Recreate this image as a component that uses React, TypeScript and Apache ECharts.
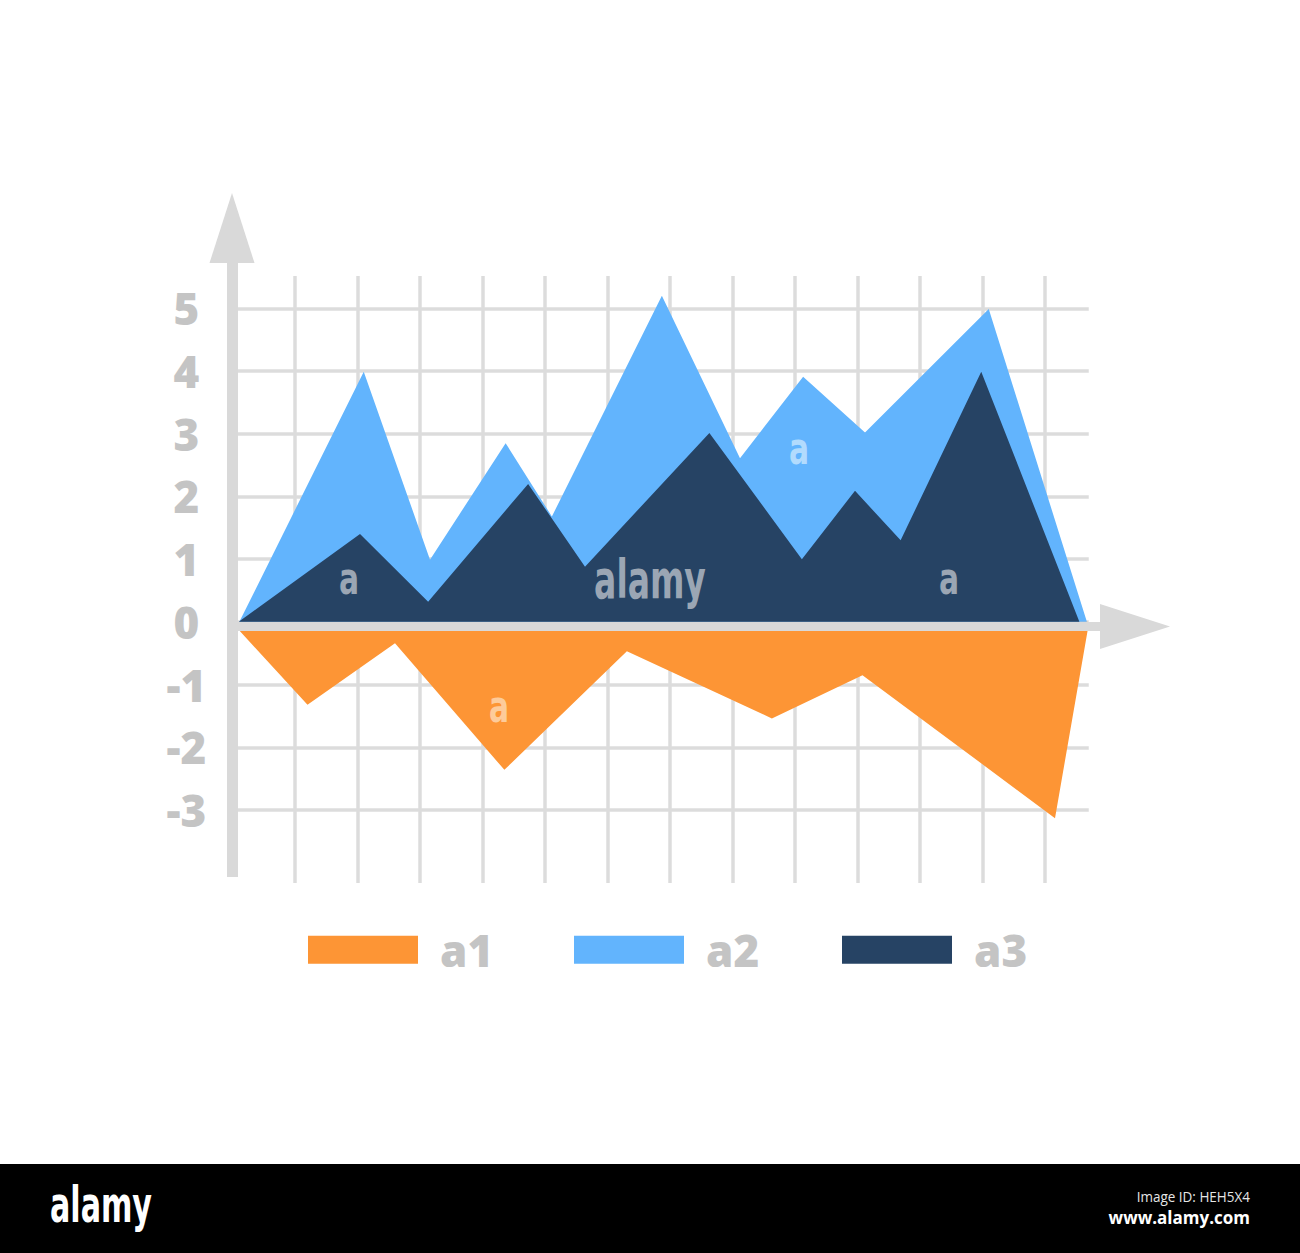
import { useEffect, useRef } from 'react';
import * as echarts from 'echarts';

// values, x is counted in grid columns from the y axis
const seriesNames = ['a1', 'a2', 'a3'];
const a1X = [0.12, 1.2, 2.6, 4.35, 6.31, 8.63, 10.08, 13.16, 13.68];
const a1Y = [-0.15, -1.32, -0.34, -2.36, -0.47, -1.54, -0.85, -3.13, -0.15];
const a2X = [0.11, 2.1, 3.16, 4.37, 5.11, 6.87, 8.12, 9.13, 10.12, 12.1, 13.67];
const a2Y = [0, 3.99, 0.99, 2.85, 1.68, 5.2, 2.61, 3.91, 3.02, 4.99, 0];
const a3X = [0.1, 2.04, 3.13, 4.73, 5.64, 7.63, 9.11, 9.96, 10.69, 11.98, 13.55];
const a3Y = [0, 1.4, 0.32, 2.2, 0.88, 3.01, 1.0, 2.09, 1.3, 3.99, 0];
const yTicks = [-3, -2, -1, 0, 1, 2, 3, 4, 5];
const xColumns = 13.7;

const colors = ['#FD9535', '#62B4FD', '#264364'];
const gridGray = '#DCDCDC';
const axisGray = '#D9D9D9';
const labelGray = '#C4C4C4';
const legendLefts = [308, 574, 842];

const pairs = (xs: number[], ys: number[]) => xs.map((x, i) => [x, ys[i]]);
const seriesData = [pairs(a1X, a1Y), pairs(a2X, a2Y), pairs(a3X, a3Y)];

const narrowBold = '"Liberation Sans Narrow", "DejaVu Sans Condensed", sans-serif';

const mark = (text: string, x: number, y: number, size: number, fill: string, family = narrowBold, weight = 'bold', align = 'center', squeeze = 1) => ({
    type: 'text',
    x,
    y,
    z: 100,
    scaleX: squeeze,
    silent: true,
    style: {
        text,
        fill,
        font: `${weight} ${size}px ${family}`,
        align,
        textAlign: align,
        verticalAlign: 'middle',
        textVerticalAlign: 'middle'
    }
});

const App = () => {
    const chartRef = useRef<HTMLDivElement>(null);

    useEffect(() => {
        document.body.style.margin = '0';
        if (!chartRef.current) return;
        const chart = echarts.init(chartRef.current, null, { renderer: 'svg' });

        const hiddenAxis = { axisLine: { show: false }, axisTick: { show: false }, axisLabel: { show: false }, splitLine: { show: false } };

        const option: any = {
            animation: false,
            backgroundColor: '#fff',
            grid: [
                // vertical grid lines
                { left: 232.5, right: 211.25, top: 276, bottom: 370 },
                // horizontal grid lines, labels and the areas
                { left: 232.5, right: 211.25, top: 308.3, bottom: 443 },
                // the two arrows
                { left: 232, right: 165, top: 228, bottom: 376 }
            ],
            xAxis: [
                {
                    gridIndex: 0, type: 'value', min: 0, max: xColumns, interval: 1,
                    axisLine: { show: false }, axisTick: { show: false }, axisLabel: { show: false },
                    splitLine: { show: true, showMinLine: false, showMaxLine: false, lineStyle: { color: gridGray, width: 3.5 } }
                },
                { gridIndex: 1, type: 'value', min: 0, max: xColumns, interval: 1, ...hiddenAxis },
                {
                    gridIndex: 2, type: 'value', min: 0, max: 1, z: 5,
                    axisLine: { show: true, onZero: true, symbol: ['none', 'triangle'], symbolSize: [45, 70], lineStyle: { color: axisGray, width: 9, cap: 'butt' } },
                    axisTick: { show: false }, axisLabel: { show: false }, splitLine: { show: false }
                }
            ],
            yAxis: [
                { gridIndex: 0, type: 'value', min: 0, max: 1, ...hiddenAxis },
                {
                    gridIndex: 1, type: 'value', min: yTicks[0], max: yTicks[yTicks.length - 1], interval: 1,
                    axisLine: { show: false }, axisTick: { show: false },
                    axisLabel: {
                        show: true, align: 'center', margin: 46, color: labelGray,
                        fontSize: 44, fontWeight: 800, fontFamily: '"Open Sans", sans-serif'
                    },
                    splitLine: { show: true, lineStyle: { color: gridGray, width: 3.5 } }
                },
                {
                    gridIndex: 2, type: 'value', min: -250.5, max: 398.5, z: 5,
                    axisLine: { show: true, onZero: true, symbol: ['none', 'triangle'], symbolSize: [45, 70], lineStyle: { color: axisGray, width: 11, cap: 'butt' } },
                    axisTick: { show: false }, axisLabel: { show: false }, splitLine: { show: false }
                }
            ],
            legend: seriesNames.map((name, i) => ({
                data: [name],
                left: legendLefts[i],
                top: 927.7,
                padding: 0,
                icon: 'rect',
                itemWidth: 110,
                itemHeight: 28,
                selectedMode: false,
                itemStyle: { color: colors[i], borderWidth: 0 },
                textStyle: {
                    color: labelGray, fontSize: 44, fontWeight: 800,
                    fontFamily: '"Open Sans", sans-serif', padding: [0, 0, 0, 17]
                }
            })),
            series: seriesNames.map((name, i) => ({
                name,
                type: 'line',
                xAxisIndex: 1,
                yAxisIndex: 1,
                data: seriesData[i],
                symbol: 'none',
                clip: false,
                z: 3,
                color: colors[i],
                itemStyle: { color: colors[i] },
                lineStyle: { width: 0, color: colors[i] },
                areaStyle: { color: colors[i], opacity: 1 }
            })),
            graphic: [
                { type: 'rect', z: 99, silent: true, shape: { x: 0, y: 1164, width: 1300, height: 89 }, style: { fill: '#000' } },
                mark('alamy', 50, 1205, 50, '#fff', narrowBold, 'bold', 'left', 0.67),
                mark('Image ID: HEH5X4', 1250, 1196, 15, '#E6E6E6', '"Open Sans", sans-serif', 'normal', 'right', 0.9),
                mark('www.alamy.com', 1250, 1217, 17, '#fff', '"Open Sans", sans-serif', 'bold', 'right'),
                // watermark marks over the chart
                mark('alamy', 650, 579, 54, '#9BA6B4', narrowBold, 'bold', 'center', 0.68),
                mark('a', 349, 579, 44, '#9BA6B4', narrowBold, 'bold', 'center', 0.75),
                mark('a', 949, 579, 44, '#9BA6B4', narrowBold, 'bold', 'center', 0.75),
                mark('a', 499, 707, 44, '#FDCB9A', narrowBold, 'bold', 'center', 0.75),
                mark('a', 799, 449, 44, '#B2DBFD', narrowBold, 'bold', 'center', 0.75)
            ]
        };

        chart.setOption(option);
        return () => {
            chart.dispose();
        };
    }, []);

    return <div ref={chartRef} style={{ width: '1300px', height: '1253px' }} />;
};

export default App;
